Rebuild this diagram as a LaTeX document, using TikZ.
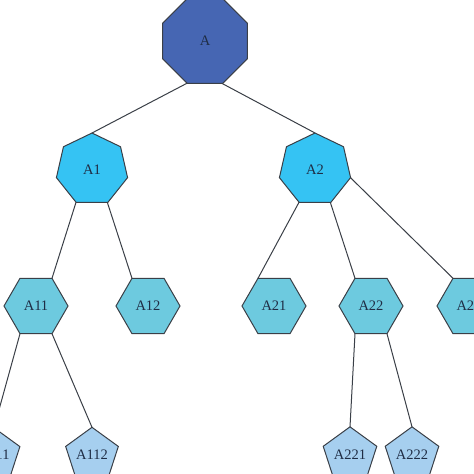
\documentclass[tikz,border=0pt]{standalone}
\usepackage{fontspec}
\setmainfont{Liberation Serif}
\usetikzlibrary{shapes.geometric}
\definecolor{rootcol}{HTML}{4666B3}
\definecolor{levelonecol}{HTML}{35C3F3}
\definecolor{leveltwocol}{HTML}{6DCADF}
\definecolor{levelthreecol}{HTML}{A6CFEF}
\definecolor{edgecol}{HTML}{3A3F47}
\definecolor{labelcol}{HTML}{1F2D45}

\begin{document}
\begin{tikzpicture}[x=1pt, y=-1pt,
  font=\fontsize{14.5}{16}\selectfont,
  poly/.style={regular polygon, regular polygon sides=#1, draw=edgecol,
    line width=1pt, inner sep=0pt, outer sep=0pt, text=labelcol},
  root/.style={poly=8, fill=rootcol, minimum size=92pt},
  branch/.style={poly=7, fill=levelonecol, minimum size=73pt},
  mid/.style={poly=6, fill=leveltwocol, minimum size=64pt},
  leaf/.style={poly=5, fill=levelthreecol, minimum size=46pt},
  link/.style={draw=edgecol, line width=1pt}]
\useasboundingbox (0,0) rectangle (474,474);
% root
\node[root] (a) at (205,41) {A};
% first level
\node[branch] (a1) at (92,169.5) {A1};
\node[branch] (a2) at (315,169.5) {A2};
% second level
\node[mid] (a11) at (36,306) {A11};
\node[mid] (a12) at (148,306) {A12};
\node[mid] (a21) at (274,306) {A21};
\node[mid] (a22) at (371,306) {A22};
\node[mid] (a23) at (469,306) {A23};
% third level
\node[leaf] (a111) at (-6,455) {A111};
\node[leaf] (a112) at (92,455) {A112};
\node[leaf] (a221) at (350,455) {A221};
\node[leaf] (a222) at (412,455) {A222};
% edges
\draw[link] (a.247.5) -- (a1.90);
\draw[link] (a.292.5) -- (a2.90);
\draw[link] (a1.244.29) -- (a11.60);
\draw[link] (a1.295.71) -- (a12.120);
\draw[link] (a2.244.29) -- (a21.120);
\draw[link] (a2.295.71) -- (a22.120);
\draw[link] (a2.347.14) -- (a23.120);
\draw[link] (a11.240) -- (a111.90);
\draw[link] (a11.300) -- (a112.90);
\draw[link] (a22.240) -- (a221.90);
\draw[link] (a22.300) -- (a222.90);
\end{tikzpicture}
\end{document}
